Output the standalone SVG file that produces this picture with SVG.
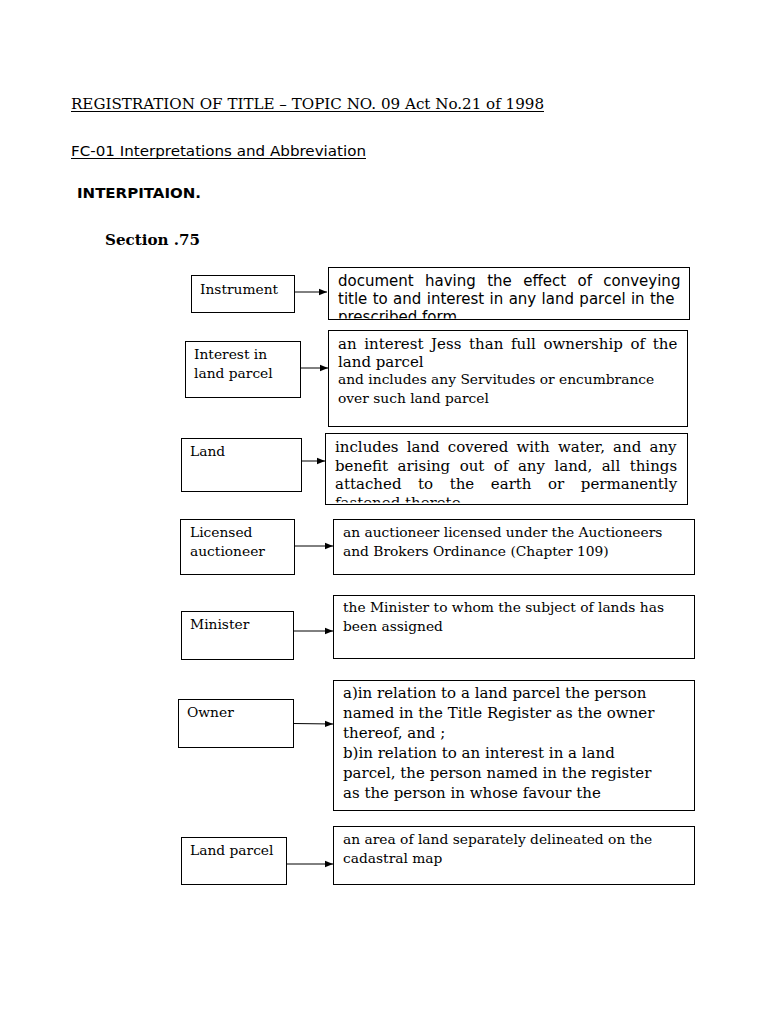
<svg xmlns="http://www.w3.org/2000/svg" width="768" height="1024" viewBox="0 0 768 1024">
<style>
.bg{fill:#fff}
.box{fill:#fff;stroke:#000;stroke-width:1}
.lbl{font-family:"DejaVu Serif","Liberation Serif",serif;font-size:13.8px;fill:#000}
.def{font-family:"DejaVu Serif","Liberation Serif",serif;font-size:13.8px;fill:#000}
.defl{font-family:"DejaVu Serif","Liberation Serif",serif;font-size:15px;fill:#000}
.defs{font-family:"DejaVu Sans","Liberation Sans",sans-serif;font-size:15px;fill:#000}
.con{stroke:#000;stroke-width:1;fill:none;marker-end:url(#ah)}
</style>
<defs>
<marker id="ah" viewBox="0 0 8 8" refX="8" refY="4" markerWidth="8" markerHeight="8" markerUnits="userSpaceOnUse" orient="auto">
<path d="M0,0.8 L8,4 L0,7.2 Z" fill="#000"/>
</marker>
<clipPath id="c1"><rect x="328" y="267" width="362" height="51.5"/></clipPath>
<clipPath id="c3"><rect x="325" y="433" width="362" height="69.5"/></clipPath>
</defs>
<rect class="bg" width="768" height="1024"/>

<g id="header">
<text x="71" y="109" font-family="DejaVu Serif, Liberation Serif, serif" font-size="14.5" textLength="473" lengthAdjust="spacingAndGlyphs">REGISTRATION OF TITLE – TOPIC NO. 09 Act No.21 of 1998</text>
<line x1="71" y1="111.5" x2="544" y2="111.5" stroke="#000" stroke-width="1"/>
<text x="71" y="156" font-family="DejaVu Sans, Liberation Sans, sans-serif" font-size="14.5" textLength="295" lengthAdjust="spacingAndGlyphs">FC-01 Interpretations and Abbreviation</text>
<line x1="71" y1="158.5" x2="366" y2="158.5" stroke="#000" stroke-width="1"/>
<text x="77" y="198" font-family="DejaVu Sans, Liberation Sans, sans-serif" font-size="14.5" font-weight="bold" textLength="124" lengthAdjust="spacingAndGlyphs">INTERPITAION.</text>
<text x="105" y="245" font-family="DejaVu Serif, Liberation Serif, serif" font-size="15" font-weight="bold" textLength="95" lengthAdjust="spacingAndGlyphs">Section .75</text>
</g>

<g id="connectors">
<line class="con" x1="294" y1="292" x2="327" y2="292"/>
<line class="con" x1="300" y1="368" x2="328" y2="368"/>
<line class="con" x1="301" y1="461" x2="325" y2="461"/>
<line class="con" x1="294" y1="546" x2="333" y2="546"/>
<line class="con" x1="293" y1="631" x2="333" y2="631"/>
<line class="con" x1="293" y1="723.5" x2="333" y2="724"/>
<line class="con" x1="286" y1="864" x2="333" y2="864"/>
</g>

<g id="n-instrument">
<rect class="box" x="191.5" y="275.5" width="103" height="37"/>
<text class="lbl" x="200" y="294">Instrument</text>
</g>
<g id="d-instrument">
<rect class="box" x="328.5" y="267.5" width="361" height="52"/>
<g clip-path="url(#c1)" class="defs">
<text x="338" y="286" word-spacing="6.6">document having the effect of conveying</text>
<text x="338" y="304" word-spacing="0.6">title to and interest in any land parcel in the</text>
<text x="338" y="322">prescribed form</text>
</g>
</g>

<g id="n-interest">
<rect class="box" x="185.5" y="341.5" width="115" height="56"/>
<text class="lbl" x="194" y="359">Interest in</text>
<text class="lbl" x="194" y="378">land parcel</text>
</g>
<g id="d-interest">
<rect class="box" x="328.5" y="330.5" width="359" height="96"/>
<text class="defl" x="338" y="349" word-spacing="2.9">an interest Jess than full ownership of the</text>
<text class="defl" x="338" y="367">land parcel</text>
<text class="def" x="338" y="384">and includes any Servitudes or encumbrance</text>
<text class="def" x="338" y="403">over such land parcel</text>
</g>

<g id="n-land">
<rect class="box" x="181.5" y="438.5" width="120" height="53"/>
<text class="lbl" x="190" y="456">Land</text>
</g>
<g id="d-land">
<rect class="box" x="325.5" y="433.5" width="362" height="71"/>
<g clip-path="url(#c3)" class="defl">
<text x="335" y="452" word-spacing="3.4">includes land covered with water, and any</text>
<text x="335" y="471" word-spacing="4.7">benefit arising out of any land, all things</text>
<text x="335" y="489" word-spacing="11.8">attached to the earth or permanently</text>
<text x="335" y="508">fastened thereto</text>
</g>
</g>

<g id="n-licensed">
<rect class="box" x="180.5" y="519.5" width="114" height="55"/>
<text class="lbl" x="190" y="537">Licensed</text>
<text class="lbl" x="190" y="556">auctioneer</text>
</g>
<g id="d-licensed">
<rect class="box" x="333.5" y="519.5" width="361" height="55"/>
<text class="def" x="343" y="537">an auctioneer licensed under the Auctioneers</text>
<text class="def" x="343" y="556">and Brokers Ordinance (Chapter 109)</text>
</g>

<g id="n-minister">
<rect class="box" x="181.5" y="611.5" width="112" height="48"/>
<text class="lbl" x="190" y="629">Minister</text>
</g>
<g id="d-minister">
<rect class="box" x="333.5" y="595.5" width="361" height="63"/>
<text class="def" x="343" y="612">the Minister to whom the subject of lands has</text>
<text class="def" x="343" y="631">been assigned</text>
</g>

<g id="n-owner">
<rect class="box" x="178.5" y="699.5" width="115" height="48"/>
<text class="lbl" x="187" y="717">Owner</text>
</g>
<g id="d-owner">
<rect class="box" x="333.5" y="680.5" width="361" height="130"/>
<text class="defl" x="343" y="698">a)in relation to a land parcel the person</text>
<text class="defl" x="343" y="718">named in the Title Register as the owner</text>
<text class="defl" x="343" y="738">thereof, and ;</text>
<text class="defl" x="343" y="758">b)in relation to an interest in a land</text>
<text class="defl" x="343" y="778">parcel, the person named in the register</text>
<text class="defl" x="343" y="798">as the person in whose favour the</text>
</g>

<g id="n-landparcel">
<rect class="box" x="181.5" y="837.5" width="105" height="47"/>
<text class="lbl" x="190" y="855">Land parcel</text>
</g>
<g id="d-landparcel">
<rect class="box" x="333.5" y="826.5" width="361" height="58"/>
<text class="def" x="343" y="844">an area of land separately delineated on the</text>
<text class="def" x="343" y="863">cadastral map</text>
</g>
</svg>
